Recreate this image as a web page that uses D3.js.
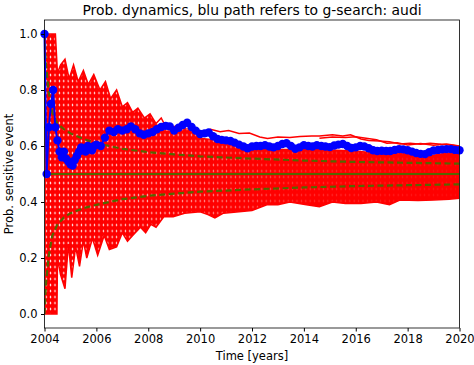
<!DOCTYPE html>
<html>
<head>
<meta charset="utf-8">
<title>Prob. dynamics</title>
<style>
  body { margin: 0; background: #fff; }
  svg text { font-family: "DejaVu Sans", sans-serif; fill: #000; }
</style>
</head>
<body>
<svg width="474" height="365"></svg>
<script src="https://d3js.org/d3.v7.min.js"></script>
<script>

// blue path (g-search: audi), time in years
var blueT = [2004.000, 2004.083, 2004.167, 2004.250, 2004.333, 2004.417, 2004.500, 2004.583, 2004.667, 2004.750, 2004.833, 2004.917,
  2005.000, 2005.083, 2005.167, 2005.250, 2005.333, 2005.417, 2005.500, 2005.583, 2005.667, 2005.750, 2005.833, 2005.917,
  2006.00, 2006.17, 2006.33, 2006.50, 2006.67, 2006.83, 2007.00, 2007.17, 2007.33, 2007.50, 2007.67, 2007.83,
  2008.00, 2008.17, 2008.33, 2008.50, 2008.67, 2008.83, 2009.00, 2009.17, 2009.33, 2009.50, 2009.67, 2009.83,
  2010.00, 2010.17, 2010.33, 2010.50, 2010.67, 2010.83, 2011.00, 2011.17, 2011.33, 2011.50, 2011.67, 2011.83,
  2012.00, 2012.17, 2012.33, 2012.50, 2012.67, 2012.83, 2013.00, 2013.17, 2013.33, 2013.50, 2013.67, 2013.83,
  2014.00, 2014.17, 2014.33, 2014.50, 2014.67, 2014.83, 2015.00, 2015.17, 2015.33, 2015.50, 2015.67, 2015.83,
  2016.00, 2016.17, 2016.33, 2016.50, 2016.67, 2016.83, 2017.00, 2017.17, 2017.33, 2017.50, 2017.67, 2017.83,
  2018.00, 2018.17, 2018.33, 2018.50, 2018.67, 2018.83, 2019.00, 2019.17, 2019.33, 2019.50, 2019.67, 2019.83, 2020.00];
var blueV = [1.0, 0.5, 0.667, 0.75, 0.8, 0.667, 0.62, 0.58, 0.56, 0.58, 0.555, 0.545,
  0.535, 0.53, 0.55, 0.565, 0.58, 0.595, 0.585, 0.58, 0.6, 0.595, 0.585, 0.6,
  0.605, 0.6, 0.63, 0.655, 0.65, 0.66, 0.655, 0.66, 0.67, 0.66, 0.645, 0.64,
  0.645, 0.65, 0.66, 0.668, 0.672, 0.67, 0.655, 0.665, 0.675, 0.683, 0.668, 0.655,
  0.643, 0.645, 0.648, 0.635, 0.625, 0.622, 0.62, 0.618, 0.612, 0.605, 0.598, 0.592,
  0.598, 0.6, 0.6, 0.603, 0.598, 0.595, 0.6, 0.607, 0.61, 0.6, 0.59, 0.595,
  0.603, 0.6, 0.598, 0.603, 0.6, 0.598, 0.596, 0.602, 0.605, 0.607, 0.6, 0.593,
  0.595, 0.6, 0.598, 0.592, 0.585, 0.582, 0.583, 0.582, 0.582, 0.586, 0.589, 0.588,
  0.585, 0.58, 0.575, 0.572, 0.571, 0.578, 0.584, 0.586, 0.588, 0.589, 0.589, 0.586, 0.585];

// red bundle: outer top path, top of the dense mass, bottom path
var topT = [2004.0, 2004.42, 2004.5, 2004.62, 2004.79, 2004.95, 2005.12, 2005.3, 2005.5, 2005.69, 2005.9, 2006.14,
  2006.35, 2006.55, 2006.78, 2007.0, 2007.2, 2007.4, 2007.6, 2007.85, 2008.07, 2008.3, 2008.5, 2008.7,
  2009.0, 2009.5, 2010.0, 2010.4, 2010.77, 2011.1, 2011.5, 2011.9, 2012.3, 2012.6, 2013.0, 2013.46,
  2013.85, 2014.3, 2014.6, 2015.1, 2015.5, 2015.8, 2016.2, 2016.5, 2016.9, 2017.3, 2017.7, 2018.1,
  2018.5, 2018.87, 2019.3, 2019.75, 2020.0];
var topV = [1.0, 1.0, 0.86, 0.89, 0.91, 0.84, 0.89, 0.83, 0.87, 0.82, 0.855, 0.80,
  0.83, 0.77, 0.80, 0.74, 0.755, 0.72, 0.735, 0.70, 0.715, 0.68, 0.70, 0.664,
  0.67, 0.675, 0.645, 0.66, 0.651, 0.655, 0.645, 0.646, 0.632, 0.627, 0.632, 0.63,
  0.634, 0.636, 0.636, 0.64, 0.636, 0.64, 0.625, 0.62, 0.618, 0.615, 0.607, 0.61,
  0.606, 0.61, 0.606, 0.603, 0.598];
// a second stray path near the top, right half
var top2T = [2014.6, 2015.1, 2015.6, 2016.0, 2016.4, 2016.8, 2017.2, 2017.6, 2018.0, 2018.5, 2019.0, 2019.5, 2020.0];
var top2V = [0.628, 0.632, 0.63, 0.633, 0.628, 0.622, 0.61, 0.612, 0.604, 0.609, 0.603, 0.607, 0.6];
var denseT = [2004.0, 2004.42, 2004.5, 2004.62, 2004.79, 2004.95, 2005.12, 2005.3, 2005.5, 2005.69, 2005.9, 2006.14,
  2006.35, 2006.55, 2006.78, 2007.0, 2007.2, 2007.4, 2007.6, 2007.85, 2008.07, 2008.3, 2008.7, 2009.5,
  2010.0, 2010.5, 2011.0, 2011.5, 2012.0, 2013.0, 2014.0, 2015.0, 2016.0, 2017.0, 2018.0, 2018.7, 2019.5, 2020.0];
var denseV = [1.0, 1.0, 0.86, 0.89, 0.91, 0.84, 0.89, 0.83, 0.87, 0.82, 0.855, 0.80,
  0.83, 0.77, 0.80, 0.74, 0.755, 0.72, 0.735, 0.70, 0.715, 0.68, 0.655, 0.665,
  0.63, 0.625, 0.61, 0.595, 0.588, 0.59, 0.59, 0.588, 0.585, 0.575, 0.575, 0.565, 0.578, 0.575];
var botT = [2004.0, 2004.48, 2004.5, 2004.62, 2004.79, 2004.92, 2005.05, 2005.2, 2005.35, 2005.5, 2005.63, 2005.85,
  2006.05, 2006.3, 2006.5, 2006.78, 2007.0, 2007.2, 2007.4, 2007.7, 2007.9, 2008.1, 2008.3, 2008.6,
  2008.96, 2009.4, 2010.0, 2010.3, 2010.57, 2010.9, 2011.5, 2012.0, 2012.57, 2013.0, 2013.46, 2014.1,
  2014.6, 2015.1, 2015.6, 2016.2, 2016.8, 2017.3, 2017.7, 2018.4, 2019.0, 2019.6, 2020.0];
var botV = [0.0, 0.0, 0.2, 0.14, 0.09, 0.25, 0.13, 0.24, 0.17, 0.26, 0.20, 0.27,
  0.21, 0.28, 0.23, 0.24, 0.29, 0.26, 0.28, 0.31, 0.29, 0.32, 0.31, 0.347,
  0.347, 0.36, 0.365, 0.355, 0.343, 0.36, 0.365, 0.37, 0.39, 0.39, 0.40, 0.39,
  0.383, 0.40, 0.395, 0.395, 0.40, 0.39, 0.407, 0.405, 0.407, 0.41, 0.413];

// green bands
var bandT = [2004.0, 2004.05, 2004.15, 2004.3, 2004.5, 2004.75, 2005.0, 2005.5, 2006.0, 2007.0, 2008.0, 2009.0,
  2010.0, 2012.0, 2014.0, 2016.0, 2018.0, 2020.0];
var bandUp = [1.0, 0.9, 0.8, 0.72, 0.68, 0.66, 0.645, 0.625, 0.61, 0.59, 0.578, 0.57,
  0.563, 0.555, 0.548, 0.543, 0.540, 0.537];
var bandLo = [0.0, 0.1, 0.2, 0.28, 0.32, 0.345, 0.36, 0.378, 0.39, 0.41, 0.422, 0.43,
  0.437, 0.445, 0.452, 0.457, 0.46, 0.463];
var meanV = 0.5;

var xTicks = [2004, 2006, 2008, 2010, 2012, 2014, 2016, 2018, 2020];
var yTicks = [0.0, 0.2, 0.4, 0.6, 0.8, 1.0];

var svg = d3.select("svg"),
    mLeft = 44.5, mRight = 459.5, mTop = 20, mBottom = 328;

var x = d3.scaleLinear().domain([2004, 2020]).range([mLeft, mRight]);
var y = d3.scaleLinear().domain([-0.05, 1.05]).range([mBottom, mTop]);

var pts = function(ts, vs) { return ts.map(function(t, i) { return [t, vs[i]]; }); };
var line = d3.line().x(function(d) { return x(d[0]); }).y(function(d) { return y(d[1]); });

var defs = svg.append("defs");
defs.append("clipPath").attr("id", "clip")
  .append("rect").attr("x", mLeft).attr("y", mTop).attr("width", mRight - mLeft).attr("height", mBottom - mTop);

// dense red mass: top edge then bottom edge reversed
var poly = line(pts(denseT, denseV).concat(pts(botT, botV).reverse())) + "Z";
defs.append("clipPath").attr("id", "massclip").append("path").attr("d", poly);

// lattice gaps between the many paths (white diamonds), fading with time
var pat = defs.append("pattern").attr("id", "lattice")
  .attr("patternUnits", "userSpaceOnUse").attr("width", 4.4).attr("height", 6);
pat.append("path").attr("d", "M2.2,1.2 L3,3 L2.2,4.8 L1.4,3 Z").attr("fill", "#fff");
var grad = defs.append("linearGradient").attr("id", "fade")
  .attr("gradientUnits", "userSpaceOnUse")
  .attr("x1", x(2004)).attr("x2", x(2020)).attr("y1", 0).attr("y2", 0);
grad.append("stop").attr("offset", 0).attr("stop-color", "#fff").attr("stop-opacity", 1);
grad.append("stop").attr("offset", 0.3).attr("stop-color", "#fff").attr("stop-opacity", 0.7);
grad.append("stop").attr("offset", 0.6).attr("stop-color", "#fff").attr("stop-opacity", 0.2);
grad.append("stop").attr("offset", 1).attr("stop-color", "#fff").attr("stop-opacity", 0.05);
defs.append("mask").attr("id", "fademask")
  .append("rect").attr("x", mLeft).attr("y", mTop).attr("width", mRight - mLeft).attr("height", mBottom - mTop)
  .attr("fill", "url(#fade)");

var plot = svg.append("g").attr("clip-path", "url(#clip)");

plot.append("path").attr("d", poly).attr("fill", "#ff0000");
plot.append("g").attr("clip-path", "url(#massclip)")
  .append("rect").attr("x", x(2004.05)).attr("y", mTop).attr("width", mRight - mLeft).attr("height", mBottom - mTop)
  .attr("fill", "url(#lattice)").attr("mask", "url(#fademask)");

[pts(topT, topV), pts(top2T, top2V), pts(botT, botV)].forEach(function(p) {
  plot.append("path")
    .attr("d", line(p))
    .attr("fill", "none").attr("stroke", "#ff0000").attr("stroke-width", 1.5);
});

// green mean and bands
plot.append("path")
  .attr("d", line([[2004, meanV], [2020, meanV]]))
  .attr("stroke", "#556600").attr("stroke-width", 2.2);
[bandUp, bandLo].forEach(function(b) {
  plot.append("path")
    .attr("d", line(pts(bandT, b)))
    .attr("fill", "none").attr("stroke", "#556600").attr("stroke-width", 2.2)
    .attr("stroke-dasharray", "6,3.5");
});

// blue path
var blue = pts(blueT, blueV);
svg.append("path")
  .attr("d", line(blue))
  .attr("fill", "none").attr("stroke", "#0000ff").attr("stroke-width", 2);
svg.append("g").selectAll("circle")
  .data(blue)
  .enter().append("circle")
    .attr("cx", function(d) { return x(d[0]); })
    .attr("cy", function(d) { return y(d[1]); })
    .attr("r", 4.2)
    .attr("fill", "#0000ff");

// axes
var xAxis = svg.append("g").attr("transform", "translate(0," + mBottom + ")")
  .call(d3.axisBottom(x).tickValues(xTicks).tickFormat(d3.format("d")).tickSize(3.5).tickPadding(3.5));
var yAxis = svg.append("g").attr("transform", "translate(" + mLeft + ",0)")
  .call(d3.axisLeft(y).tickValues(yTicks).tickFormat(d3.format(".1f")).tickSize(3.5).tickPadding(3.5));
[xAxis, yAxis].forEach(function(a) {
  a.selectAll("text").style("font-size", "11.5px");
  a.select(".domain").remove();
});

svg.append("rect")
  .attr("x", mLeft).attr("y", mTop).attr("width", mRight - mLeft).attr("height", mBottom - mTop)
  .attr("fill", "none").attr("stroke", "#000").attr("stroke-width", 0.8);

svg.append("text")
  .attr("x", (mLeft + mRight) / 2).attr("y", 15)
  .attr("text-anchor", "middle").style("font-size", "13.9px")
  .text("Prob. dynamics, blu path refers to g-search: audi");
svg.append("text")
  .attr("x", (mLeft + mRight) / 2).attr("y", 360)
  .attr("text-anchor", "middle").style("font-size", "11.5px")
  .text("Time [years]");
svg.append("text")
  .attr("transform", "translate(13," + (mTop + mBottom) / 2 + ") rotate(-90)")
  .attr("text-anchor", "middle").style("font-size", "11.5px")
  .text("Prob. sensitive event");

</script>
</body>
</html>
